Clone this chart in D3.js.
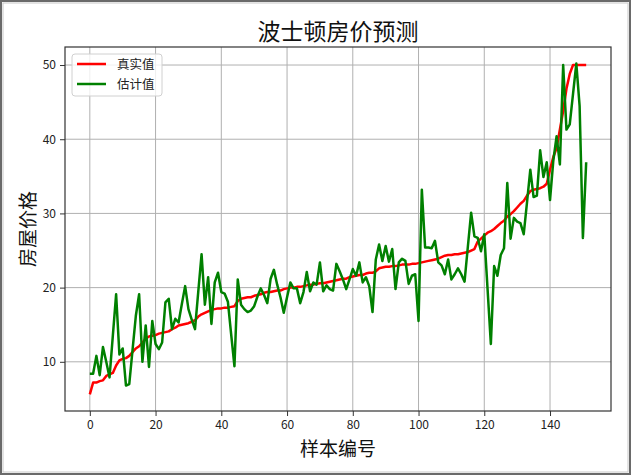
<!DOCTYPE html>
<html>
<head>
<meta charset="utf-8">
<script src="https://cdn.jsdelivr.net/npm/d3@7"></script>
<style>
  html, body { margin: 0; padding: 0; background: #fff; }
  svg { display: block; }
</style>
</head>
<body>
<svg id="chart" width="631" height="475"></svg>
<script>
const titleText = "波士顿房价预测";
const xLabel = "样本编号";
const yLabel = "房屋价格";
const seriesNames = ["真实值", "估计值"];
const xTicks = [0, 20, 40, 60, 80, 100, 120, 140];
const yTicks = [10, 20, 30, 40, 50];

// true values (sorted)
const trueValues = [
  5.6, 7.2, 7.2, 7.4, 7.5, 8.1, 8.3, 8.5, 9.5, 10.2,
  10.4, 10.5, 10.8, 11.3, 11.8, 12.1, 12.6, 13.1, 13.4, 13.5,
  13.6, 13.8, 13.9, 14.0, 14.1, 14.4, 14.6, 14.9, 15.0, 15.1,
  15.2, 15.4, 15.6, 16.1, 16.4, 16.6, 16.8, 17.0, 17.1, 17.2,
  17.2, 17.3, 17.3, 17.4, 17.5, 18.2, 18.5, 18.6, 18.7, 18.7,
  18.9, 19.0, 19.1, 19.3, 19.4, 19.4, 19.5, 19.6, 19.6, 19.8,
  19.9, 20.0, 20.0, 20.1, 20.1, 20.2, 20.3, 20.4, 20.4, 20.5,
  20.6, 20.6, 20.7, 20.8, 20.9, 21.0, 21.1, 21.2, 21.2, 21.4,
  21.5, 21.6, 21.7, 21.7, 21.9, 22.0, 22.0, 22.2, 22.6, 22.7,
  22.8, 22.8, 22.9, 22.9, 23.0, 23.1, 23.1, 23.1, 23.2, 23.2,
  23.3, 23.4, 23.5, 23.6, 23.7, 23.8, 23.9, 24.1, 24.3, 24.4,
  24.4, 24.5, 24.5, 24.6, 24.7, 24.8, 25.0, 25.2, 26.2, 26.6,
  27.0, 27.4, 27.6, 27.9, 28.3, 28.7, 29.0, 29.6, 29.9, 30.3,
  30.8, 31.3, 31.7, 32.4, 33.0, 33.2, 33.3, 33.4, 33.6, 34.0,
  35.9, 37.6, 38.8, 41.3, 43.8, 46.8, 48.8, 50.0, 50.0, 50.0,
  50.0, 50.0
];

// predicted values
const predValues = [
  8.4, 8.4, 10.8, 8.2, 12.0, 10.0, 7.9, 13.5, 19.1, 11.0,
  11.8, 6.8, 7.0, 11.6, 16.2, 19.1, 10.0, 14.9, 9.3, 15.5,
  12.4, 11.7, 12.6, 18.0, 18.5, 14.4, 15.8, 15.3, 17.8, 20.2,
  17.1, 15.7, 14.4, 19.5, 24.5, 17.7, 21.4, 15.1, 20.7, 22.0,
  19.4, 19.2, 18.1, 13.7, 9.4, 21.1, 17.7, 17.1, 16.7, 16.9,
  17.5, 18.8, 19.9, 19.0, 17.9, 21.2, 22.4, 20.4, 18.7, 16.6,
  18.7, 20.7, 19.9, 19.9, 17.9, 19.4, 22.1, 19.5, 20.7, 20.4,
  23.4, 19.5, 20.3, 19.8, 19.6, 23.2, 22.2, 21.1, 19.8, 21.1,
  22.5, 21.6, 23.4, 20.7, 21.4, 20.2, 16.7, 23.8, 25.8, 23.6,
  25.6, 23.5, 25.2, 19.8, 23.4, 23.9, 23.6, 20.5, 21.6, 21.8,
  15.5, 33.2, 25.4, 25.4, 25.3, 26.3, 23.4, 23.0, 21.8, 23.8,
  21.1, 21.8, 22.6, 21.8, 20.8, 25.5, 30.1, 26.9, 26.7, 24.9,
  27.2, 19.8, 12.4, 22.9, 21.6, 24.4, 25.3, 34.1, 26.6, 29.4,
  28.9, 28.7, 27.2, 31.5, 35.9, 32.2, 32.4, 38.5, 34.9, 36.9,
  31.8, 37.1, 40.4, 36.6, 50.0, 41.3, 42.0, 46.1, 50.2, 44.5,
  26.7, 36.9
];

const W = 631, H = 475;
const margin = { left: 65, right: 20, top: 47, bottom: 64 };
const svg = d3.select("#chart");
const font = "'Noto Sans CJK SC', 'Noto Sans', sans-serif";

// outer frame
svg.append("rect").attr("x", 1).attr("y", 1).attr("width", W - 2).attr("height", H - 2)
  .attr("fill", "#fff").attr("stroke", "#6a6a6a").attr("stroke-width", 2);
svg.append("rect").attr("x", 3).attr("y", 3).attr("width", W - 6).attr("height", H - 6)
  .attr("fill", "none").attr("stroke", "#c8c8c8").attr("stroke-width", 1);

const n = trueValues.length;
const idx = d3.range(n);
const xPad = (n - 1) * 0.05;
const x = d3.scaleLinear().domain([-xPad, n - 1 + xPad]).range([margin.left, W - margin.right]);
const all = trueValues.concat(predValues);
const ymin = d3.min(all), ymax = d3.max(all), yPad = (ymax - ymin) * 0.05;
const y = d3.scaleLinear().domain([ymin - yPad, ymax + yPad]).range([H - margin.bottom, margin.top]);

const pl = margin.left, pr = W - margin.right, pt = margin.top, pb = H - margin.bottom;

// grid
const g = svg.append("g");
g.selectAll(".vg").data(xTicks).join("line")
  .attr("x1", d => x(d)).attr("x2", d => x(d)).attr("y1", pt).attr("y2", pb)
  .attr("stroke", "#b0b0b0").attr("stroke-width", 1);
g.selectAll(".hg").data(yTicks).join("line")
  .attr("x1", pl).attr("x2", pr).attr("y1", d => y(d)).attr("y2", d => y(d))
  .attr("stroke", "#b0b0b0").attr("stroke-width", 1);

// lines
const line = (vals) => d3.line().x(i => x(i)).y(i => y(vals[i]))(idx);
svg.append("path").attr("d", line(trueValues)).attr("fill", "none")
  .attr("stroke", "#ff0000").attr("stroke-width", 2.5).attr("stroke-linejoin", "round");
svg.append("path").attr("d", line(predValues)).attr("fill", "none")
  .attr("stroke", "#008000").attr("stroke-width", 2.5).attr("stroke-linejoin", "round");

// axes
const xAxis = svg.append("g").attr("transform", `translate(0,${pb})`)
  .call(d3.axisBottom(x).tickValues(xTicks).tickSize(5).tickPadding(4).tickFormat(d3.format("d")));
const yAxis = svg.append("g").attr("transform", `translate(${pl},0)`)
  .call(d3.axisLeft(y).tickValues(yTicks).tickSize(5).tickPadding(4).tickFormat(d3.format("d")));
[xAxis, yAxis].forEach(a => {
  a.select(".domain").remove();
  a.selectAll(".tick line").attr("stroke", "#333");
  a.selectAll(".tick text").attr("font-family", font).attr("font-size", 12).attr("fill", "#222");
});

// frame of axes
svg.append("rect").attr("x", pl).attr("y", pt).attr("width", pr - pl).attr("height", pb - pt)
  .attr("fill", "none").attr("stroke", "#333").attr("stroke-width", 1.2);

// title and labels
svg.append("text").attr("x", (pl + pr) / 2).attr("y", 40).attr("text-anchor", "middle")
  .attr("font-family", font).attr("font-size", 23).attr("fill", "#111").text(titleText);
svg.append("text").attr("x", (pl + pr) / 2).attr("y", 456).attr("text-anchor", "middle")
  .attr("font-family", font).attr("font-size", 19).attr("fill", "#111").text(xLabel);
svg.append("text").attr("transform", `translate(35,${(pt + pb) / 2}) rotate(-90)`).attr("text-anchor", "middle")
  .attr("font-family", font).attr("font-size", 19).attr("fill", "#111").text(yLabel);

// legend
const lg = svg.append("g");
lg.append("rect").attr("x", 72).attr("y", 54).attr("width", 90).attr("height", 42).attr("rx", 3)
  .attr("fill", "#fff").attr("fill-opacity", 0.8).attr("stroke", "#d0d0d0");
const colors = ["#ff0000", "#008000"];
seriesNames.forEach((s, k) => {
  const yy = 64 + k * 20;
  lg.append("line").attr("x1", 77).attr("x2", 106).attr("y1", yy).attr("y2", yy)
    .attr("stroke", colors[k]).attr("stroke-width", 2.5);
  lg.append("text").attr("x", 117).attr("y", yy + 4.5).attr("font-family", font)
    .attr("font-size", 12.5).attr("fill", "#222").text(s);
});
</script>
</body>
</html>
